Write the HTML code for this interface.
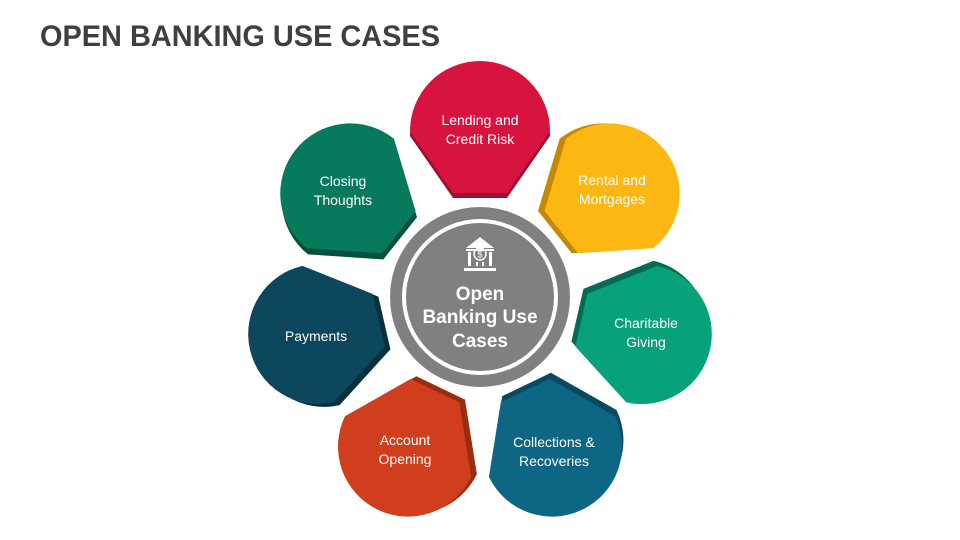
<!DOCTYPE html>
<html><head><meta charset="utf-8"><style>
html,body{margin:0;padding:0;background:#fff;}
svg{display:block;font-family:"Liberation Sans",sans-serif;}
</style></head><body>
<svg width="960" height="540" viewBox="0 0 960 540">
<defs>
<path id="p" d="M -27,-104 L -70,-166 A 70 70 0 1 1 70,-166 L 27,-104 Z"/>
</defs>
<text x="40" y="46" font-size="30" font-weight="bold" fill="#3f3f3f" textLength="400" lengthAdjust="spacingAndGlyphs">OPEN BANKING USE CASES</text>
<g transform="translate(480,297)">
 <g transform="rotate(0)"><use href="#p" fill="#9e1030" transform="translate(0,5)"/><use href="#p" fill="#d7143f"/></g>
 <g transform="rotate(51.4)"><use href="#p" fill="#c48a06" transform="translate(-4,5)"/><use href="#p" fill="#fdb713"/></g>
 <g transform="rotate(102.9)"><use href="#p" fill="#066b52" transform="translate(-4,5)"/><use href="#p" fill="#07a27a"/></g>
 <g transform="rotate(154.3)"><use href="#p" fill="#0a4a61" transform="translate(-4,5)"/><use href="#p" fill="#0e6685"/></g>
 <g transform="rotate(205.7)"><use href="#p" fill="#992d14" transform="translate(-4,5)"/><use href="#p" fill="#d03e1d"/></g>
 <g transform="rotate(257.1)"><use href="#p" fill="#07303f" transform="translate(-4,5)"/><use href="#p" fill="#0c475e"/></g>
 <g transform="rotate(308.6)"><use href="#p" fill="#04523d" transform="translate(-4,5)"/><use href="#p" fill="#067a5b"/></g>
 <circle r="90" fill="#808080"/>
 <circle r="78" fill="#fff"/>
 <circle r="74" fill="#808080"/>
</g>
<g fill="#fff">
 <path d="M466 248 L480 237 L494 248 Z"/>
 <rect x="466" y="249" width="28" height="2"/>
 <rect x="468" y="252" width="3" height="14"/><rect x="489" y="252" width="3" height="14"/>
 <rect x="476" y="262" width="2" height="4"/><rect x="482" y="262" width="2" height="4"/>
 <circle cx="480" cy="254" r="6" fill="none" stroke="#fff" stroke-width="1.5"/>
 <text x="480" y="257.5" font-size="9" text-anchor="middle">$</text>
 <rect x="464" y="268" width="32" height="3"/>
</g>
<g fill="#fff" font-size="19" font-weight="bold" text-anchor="middle">
 <text x="480" y="300">Open</text>
 <text x="480" y="323">Banking Use</text>
 <text x="480" y="347">Cases</text>
</g>
<g fill="#fff" font-size="14" text-anchor="middle">
 <text x="480" y="125">Lending and</text><text x="480" y="144">Credit Risk</text>
 <text x="612" y="185">Rental and</text><text x="612" y="204">Mortgages</text>
 <text x="646" y="328">Charitable</text><text x="646" y="347">Giving</text>
 <text x="554" y="447">Collections &amp;</text><text x="554" y="466">Recoveries</text>
 <text x="405" y="445">Account</text><text x="405" y="464">Opening</text>
 <text x="316" y="341">Payments</text>
 <text x="343" y="186">Closing</text><text x="343" y="205">Thoughts</text>
</g>
</svg>
</body></html>
